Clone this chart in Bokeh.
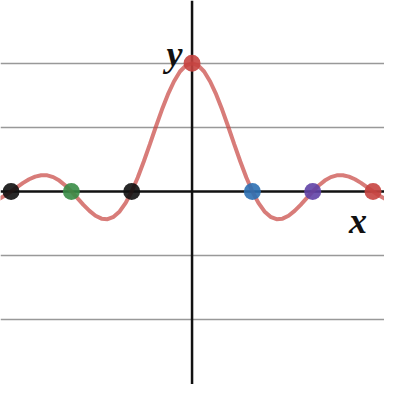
from bokeh.plotting import figure
from bokeh.models import Span, FixedTicker, Label
from bokeh.embed import file_html
from bokeh.resources import INLINE

# curve samples (sinc-like shape)
curve_x = [-3.2, -3.1, -3.0, -2.9, -2.8, -2.7, -2.6, -2.5, -2.4, -2.3, -2.2, -2.1,
           -2.0, -1.9, -1.8, -1.7, -1.6, -1.5, -1.4, -1.3, -1.2, -1.1,
           -1.0, -0.9, -0.8, -0.7, -0.6, -0.5, -0.4, -0.3, -0.2, -0.1,
           0.0, 0.1, 0.2, 0.3, 0.4, 0.5, 0.6, 0.7, 0.8, 0.9,
           1.0, 1.1, 1.2, 1.3, 1.4, 1.5, 1.6, 1.7, 1.8, 1.9,
           2.0, 2.1, 2.2, 2.3, 2.4, 2.5, 2.6, 2.7, 2.8, 2.9,
           3.0, 3.1, 3.2]
curve_y = [-0.058, -0.032, 0.0, 0.034, 0.067, 0.095, 0.116, 0.127, 0.126, 0.112, 0.085, 0.047,
           0.0, -0.052, -0.104, -0.151, -0.189, -0.212, -0.216, -0.198, -0.156, -0.089,
           0.0, 0.109, 0.234, 0.368, 0.505, 0.637, 0.757, 0.858, 0.936, 0.984,
           1.0, 0.984, 0.936, 0.858, 0.757, 0.637, 0.505, 0.368, 0.234, 0.109,
           0.0, -0.089, -0.156, -0.198, -0.216, -0.212, -0.189, -0.151, -0.104, -0.052,
           0.0, 0.047, 0.085, 0.112, 0.126, 0.127, 0.116, 0.095, 0.067, 0.034,
           0.0, -0.032, -0.058]

# marked points
dot_x = [-3, -2, -1, 0, 1, 2, 3]
dot_y = [0, 0, 0, 1, 0, 0, 0]
dot_colors = ["#111111", "#388c46", "#111111", "#c74440", "#2d70b3", "#6042a6", "#c74440"]

grid_ticks = [-1.0, -0.5, 0.5, 1.0]

p = figure(width=384, height=384, x_range=(-3.175, 3.19), y_range=(-1.506, 1.49),
           output_backend="svg", toolbar_location=None, min_border=0)
p.outline_line_color = None
p.axis.visible = False
p.xgrid.grid_line_color = None
p.ygrid.ticker = FixedTicker(ticks=grid_ticks)
p.ygrid.grid_line_color = "#999999"
p.ygrid.grid_line_width = 1.5
p.ygrid.grid_line_alpha = 1.0

# the two axes
p.add_layout(Span(location=0, dimension="width", line_color="#111111", line_width=2.5, level="underlay"))
p.add_layout(Span(location=0, dimension="height", line_color="#111111", line_width=2.5, level="underlay"))

p.line(curve_x, curve_y, line_color="#c74440", line_alpha=0.7, line_width=4)
p.scatter(dot_x, dot_y, size=17, fill_color=dot_colors, line_color=None, fill_alpha=0.9)

p.add_layout(Label(x=2.75, y=-0.232, text="x", text_align="center", text_baseline="alphabetic",
                   text_font="Liberation Serif", text_font_style="bold italic", text_font_size="36px",
                   text_color="#111111"))
p.add_layout(Label(x=-0.29, y=1.07, text="y", text_align="center", text_baseline="alphabetic",
                   text_font="Liberation Serif", text_font_style="bold italic", text_font_size="36px",
                   text_color="#111111"))

open("out.html", "w").write(file_html(p, INLINE))
